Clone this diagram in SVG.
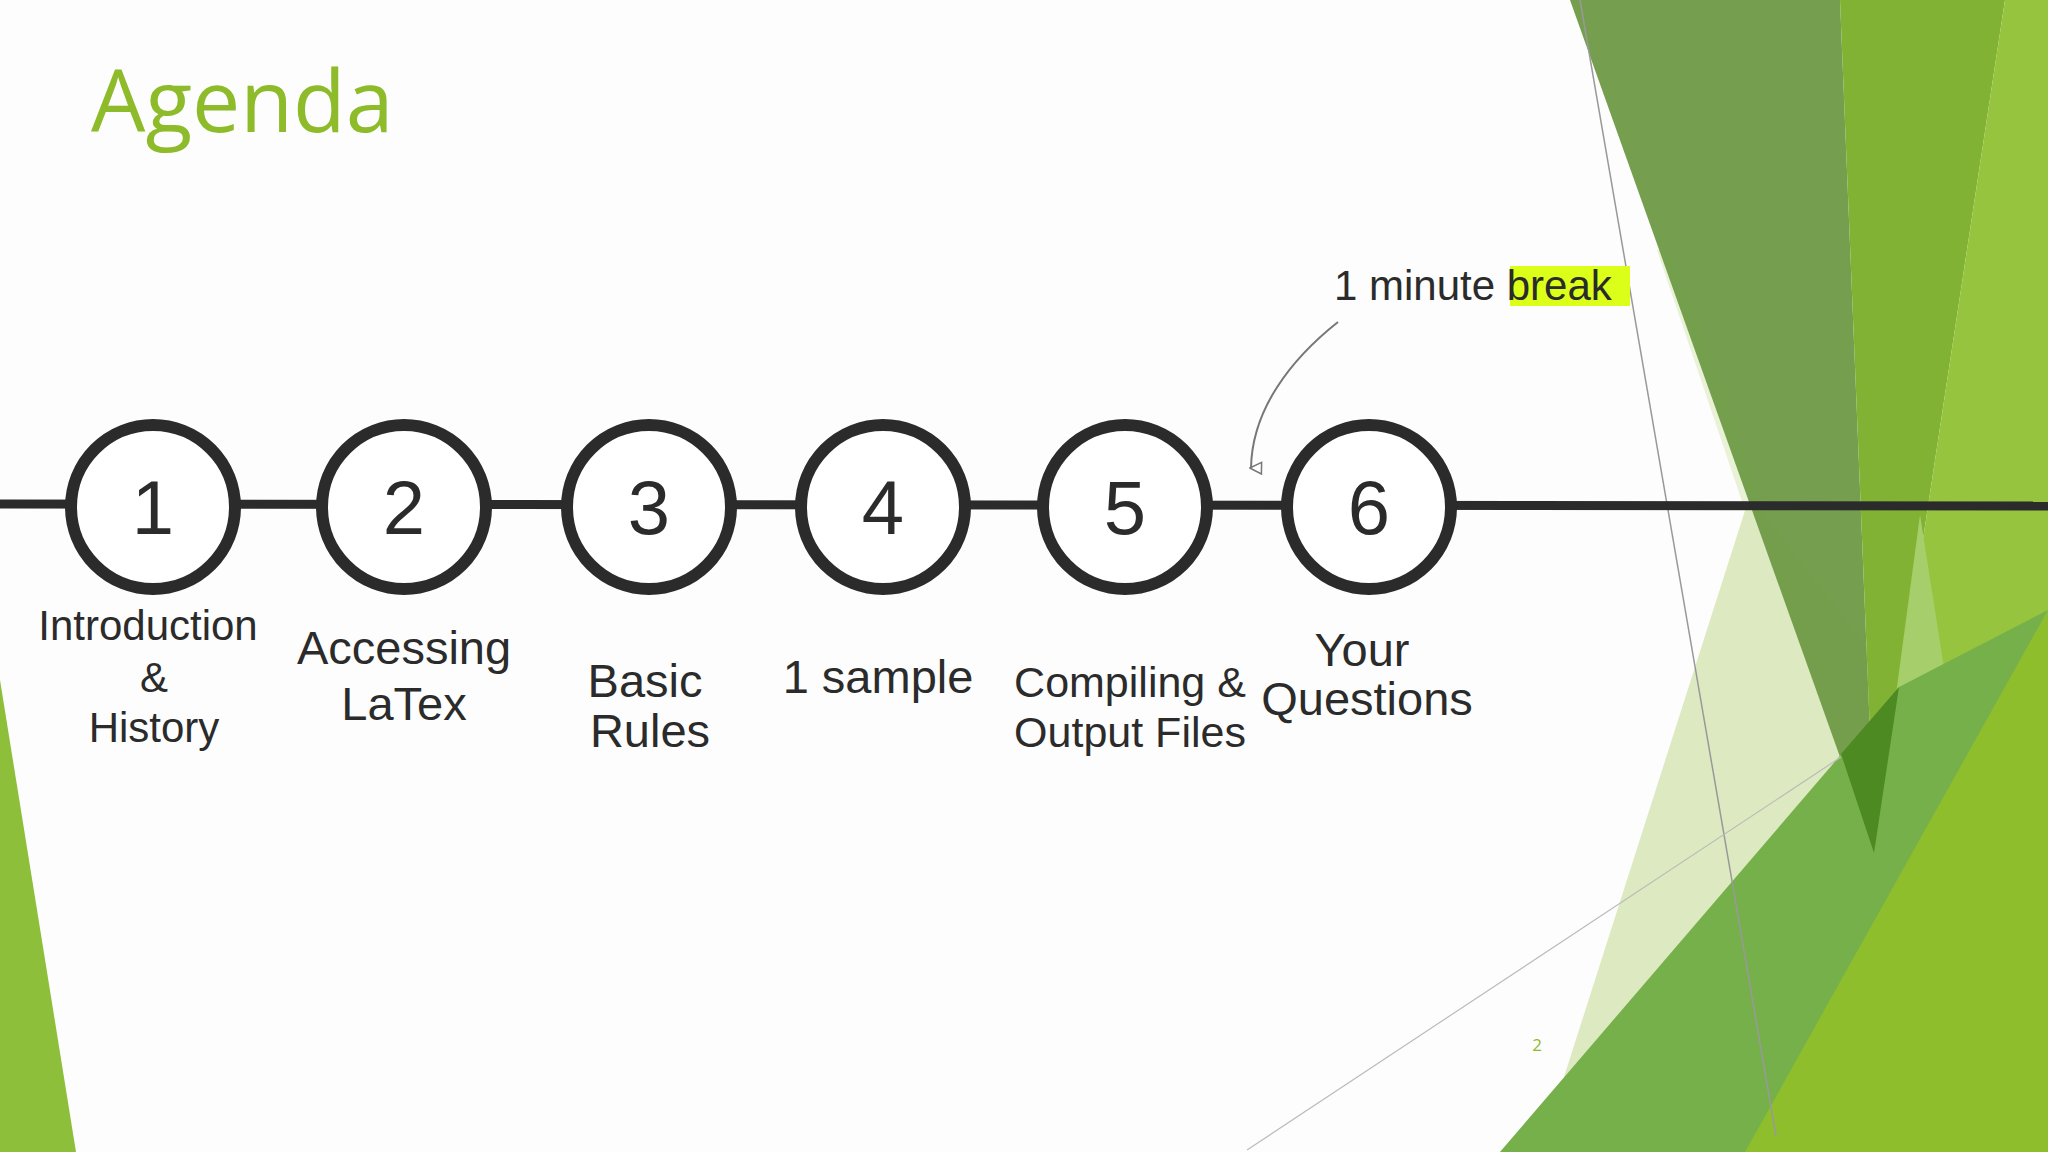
<svg xmlns="http://www.w3.org/2000/svg" width="2048" height="1152" viewBox="0 0 2048 1152">
<style>
.lbl{font-family:"Liberation Sans",Arial,sans-serif;fill:#2b2b2b;text-anchor:middle}
.num{font-family:"Liberation Sans",Arial,sans-serif;font-size:76px;fill:#2b2b2b;text-anchor:middle}
.ring{fill:#fff;stroke:#2b2b2b;stroke-width:12}
</style>
<defs>
<marker id="ah" viewBox="0 0 12 12" refX="6" refY="10" markerWidth="14" markerHeight="14" orient="auto-start-reverse" markerUnits="userSpaceOnUse">
<path d="M1,1 L11,1 L6,11 Z" fill="#fff" stroke="#777" stroke-width="1.3"/>
</marker>
</defs>
<rect width="2048" height="1152" fill="#fdfdfd"/>
<g id="background">
<polygon points="0,680 0,1152 76,1152" fill="#8dbf3a"/>
<polygon points="1657,250 1672,250 1900,880 1870,880" fill="#e4efcc" opacity="0.8"/>
<polygon points="1540,1152 1750,495 1900,690 1500,1152" fill="#dde9c0"/>
<polygon points="1570,0 1840,0 1875,855" fill="#6e9a45" opacity="0.95"/>
<polygon points="1840,0 2005,0 1875,855" fill="#82b234"/>
<polygon points="2005,0 2048,0 2048,1152 1900,1152 1875,855" fill="#97c43f"/>
<polygon points="1920,515 1958,757 1888,890 1864,934" fill="#a6cf6b"/>
<polygon points="1500,1152 1899,687 2048,610 2048,1152" fill="#76b04a"/>
<polygon points="1841,754 1899,687 1874,853" fill="#4e8a22"/>
<polygon points="1745,1152 2048,610 2048,1152" fill="#8fbe2c"/>
<line x1="1580" y1="0" x2="1776" y2="1136" stroke="#999" stroke-width="1.5"/>
<line x1="1247" y1="1150" x2="1841" y2="757" stroke="#bbb" stroke-width="1.2"/>
</g>
<text x="91" y="132" font-family="'Open Sans','Liberation Sans',sans-serif" font-size="86" fill="#8dbb2a">Agenda</text>
<g id="connectors">
<line x1="0" y1="504" x2="2048" y2="506" stroke="#2b2b2b" stroke-width="9"/>
<path d="M1338,322 C1290,360 1252,410 1251,468" fill="none" stroke="#777" stroke-width="2" marker-end="url(#ah)"/>
</g>
<g id="n1"><circle class="ring" cx="153" cy="507" r="82"/><text class="num" x="153" y="534">1</text>
<text class="lbl" font-size="42" x="148" y="640">Introduction</text><text class="lbl" font-size="42" x="154" y="692">&amp;</text><text class="lbl" font-size="42" x="154" y="742">History</text></g>
<g id="n2"><circle class="ring" cx="404" cy="507" r="82"/><text class="num" x="404" y="534">2</text>
<text class="lbl" font-size="47" x="404" y="664">Accessing</text><text class="lbl" font-size="47" x="404" y="720">LaTex</text></g>
<g id="n3"><circle class="ring" cx="649" cy="507" r="82"/><text class="num" x="649" y="534">3</text>
<text class="lbl" font-size="47" x="645" y="697">Basic</text><text class="lbl" font-size="47" x="650" y="747">Rules</text></g>
<g id="n4"><circle class="ring" cx="883" cy="507" r="82"/><text class="num" x="883" y="534">4</text>
<text class="lbl" font-size="47" x="878" y="693">1 sample</text></g>
<g id="n5"><circle class="ring" cx="1125" cy="507" r="82"/><text class="num" x="1125" y="534">5</text>
<text class="lbl" font-size="43" x="1130" y="697">Compiling &amp;</text><text class="lbl" font-size="43" x="1130" y="747">Output Files</text></g>
<g id="n6"><circle class="ring" cx="1369" cy="507" r="82"/><text class="num" x="1369" y="534">6</text>
<text class="lbl" font-size="47" x="1362" y="666">Your</text><text class="lbl" font-size="47" x="1367" y="715">Questions</text></g>
<g id="note">
<rect x="1510" y="266" width="120" height="40" fill="#dcff1a"/>
<text x="1334" y="300" font-family="'Liberation Sans',Arial,sans-serif" font-size="42" fill="#2b2b2b">1 minute break</text>
</g>
<text x="1537" y="1051" font-family="'Open Sans','Liberation Sans',sans-serif" font-size="17" fill="#8dbb2a" text-anchor="middle">2</text>
</svg>
